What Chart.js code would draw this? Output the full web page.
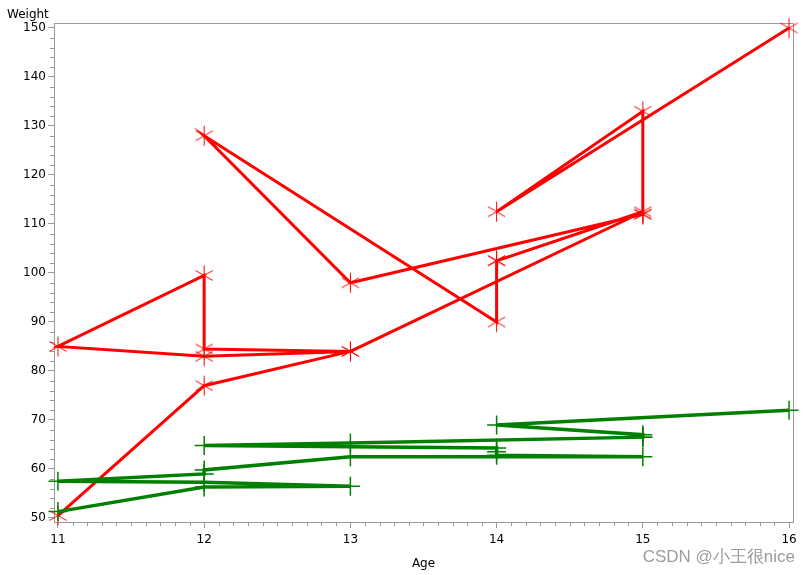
<!DOCTYPE html>
<html>
<head>
<meta charset="utf-8">
<script src="https://cdn.jsdelivr.net/npm/chart.js@4/dist/chart.umd.min.js"></script>
<style>
  html, body { margin: 0; padding: 0; background: #fff; }
  #wrap { width: 811px; height: 575px; position: relative; }
</style>
</head>
<body>
<div id="wrap"><canvas id="chart" width="811" height="575"></canvas></div>
<script>
// sashelp.class, in the order the lines are drawn (by height)
const ages    = [11, 12, 13, 12, 11, 12, 12, 13, 15, 14, 14, 14, 12, 13, 15, 15, 15, 14, 16];
const weights = [50.5, 77, 84, 83, 85, 99.5, 84.5, 84, 112.5, 102.5, 102.5, 90, 128, 98, 112, 112, 133, 112.5, 150];
const heights = [51.3, 56.3, 56.5, 57.3, 57.5, 59.0, 59.8, 62.5, 62.5, 62.8, 63.5, 64.3, 64.8, 65.3, 66.5, 66.5, 67.0, 69.0, 72.0];
const xTicks = [11, 12, 13, 14, 15, 16];
const yTicks = [50, 60, 70, 80, 90, 100, 110, 120, 130, 140, 150];

const axisColor = '#9a9a9a';
const font = { family: 'DejaVu Sans', size: 12 };

// 6 arm star marker like the SAS one
function starMarker(r, color) {
    const c = document.createElement('canvas');
    const s = r * 2 + 3;
    c.width = s; c.height = s;
    const ctx = c.getContext('2d');
    ctx.strokeStyle = color;
    ctx.lineWidth = 1;
    ctx.translate(s / 2, s / 2);
    [90, 30, -30].forEach(a => {
        const rad = a * Math.PI / 180;
        ctx.beginPath();
        ctx.moveTo(-Math.cos(rad) * r, -Math.sin(rad) * r);
        ctx.lineTo(Math.cos(rad) * r, Math.sin(rad) * r);
        ctx.stroke();
    });
    return c;
}

function toPoints(ys) {
    return ages.map((a, i) => ({ x: a, y: ys[i] }));
}

// box round the plot, minor ticks (under the data), titles, watermark
const decor = {
    id: 'decor',
    beforeDatasetsDraw(chart) {
        const ctx = chart.ctx;
        const a = chart.chartArea;
        const xs = chart.scales.x, ys = chart.scales.y;
        ctx.save();
        ctx.strokeStyle = axisColor;
        ctx.lineWidth = 1;
        ctx.strokeRect(Math.round(a.left) + 0.5, Math.round(a.top) + 0.5,
            Math.round(a.right - a.left), Math.round(a.bottom - a.top));
        ctx.beginPath();
        for (let i = 110; i < 160; i++) {
            if (i % 10 === 0) continue;
            const px = Math.round(xs.getPixelForValue(i / 10)) + 0.5;
            ctx.moveTo(px, a.bottom);
            ctx.lineTo(px, a.bottom + 4);
        }
        for (let v = 52; v < 150; v += 2) {
            if (v % 10 === 0) continue;
            const py = Math.round(ys.getPixelForValue(v)) + 0.5;
            ctx.moveTo(a.left, py);
            ctx.lineTo(a.left - 4, py);
        }
        ctx.stroke();
        ctx.restore();
    },
    afterDraw(chart) {
        const ctx = chart.ctx;
        const a = chart.chartArea;
        ctx.save();
        ctx.fillStyle = '#000';
        ctx.font = '12px "DejaVu Sans"';
        ctx.textBaseline = 'middle';
        ctx.textAlign = 'left';
        ctx.fillText('Weight', 7, 15);
        ctx.textAlign = 'center';
        ctx.fillText('Age', (a.left + a.right) / 2, 564);
        ctx.fillStyle = 'rgba(130,130,130,0.8)';
        ctx.font = '17px "Liberation Sans"';
        ctx.textAlign = 'right';
        ctx.fillText('CSDN @小王很nice', 795, 557);
        ctx.restore();
    }
};

new Chart(document.getElementById('chart'), {
    type: 'line',
    data: {
        datasets: [
            {
                label: 'Height',
                data: toPoints(heights),
                borderColor: '#008000',
                backgroundColor: '#008000',
                borderWidth: 3.5,
                pointStyle: 'cross',
                pointRadius: 9.5,
                pointBorderWidth: 1.5,
                tension: 0,
                clip: false,
                order: 0
            },
            {
                label: 'Weight',
                data: toPoints(weights),
                borderColor: '#ff0000',
                backgroundColor: '#ff0000',
                borderWidth: 3,
                pointStyle: starMarker(10, '#ff0000'),
                tension: 0,
                clip: false,
                order: 1
            }
        ]
    },
    options: {
        responsive: false,
        animation: false,
        layout: { padding: { left: 0, top: 23, right: 18, bottom: 0 } },
        plugins: { legend: { display: false }, tooltip: { enabled: false } },
        scales: {
            x: {
                type: 'linear',
                min: 10.973,
                max: 16.027,
                afterBuildTicks: s => { s.ticks = xTicks.map(v => ({ value: v })); },
                afterFit: s => { s.height = 53; },
                grid: { drawOnChartArea: false, drawTicks: true, tickLength: 6, color: axisColor },
                border: { color: axisColor },
                ticks: { color: '#000', font: font, padding: 5, maxRotation: 0 }
            },
            y: {
                min: 49.18,
                max: 151.02,
                afterBuildTicks: s => { s.ticks = yTicks.map(v => ({ value: v })); },
                afterFit: s => { s.width = 54; },
                grid: { drawOnChartArea: false, drawTicks: true, tickLength: 6, color: axisColor },
                border: { color: axisColor },
                ticks: { color: '#000', font: font, padding: 2 }
            }
        }
    },
    plugins: [decor]
});
</script>
</body>
</html>
